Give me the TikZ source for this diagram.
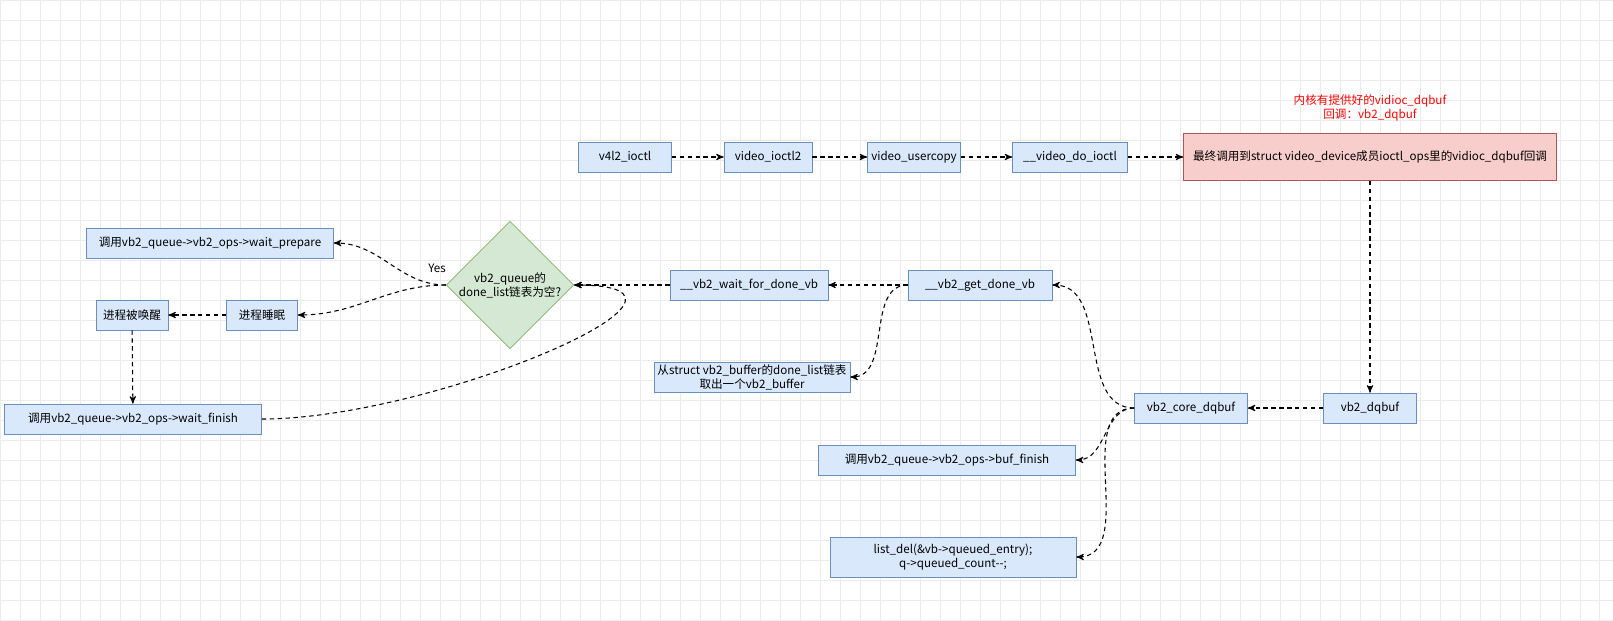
\documentclass[tikz,border=0pt]{standalone}
\usepackage{fontspec}
\setmainfont{Noto Sans CJK SC}
\usetikzlibrary{arrows,shapes.geometric}
\definecolor{boxfill}{HTML}{DAE8FC}
\definecolor{boxline}{HTML}{6C8EBF}
\definecolor{redfill}{HTML}{F8CECC}
\definecolor{redline}{HTML}{B85450}
\definecolor{greenfill}{HTML}{D5E8D4}
\definecolor{greenline}{HTML}{82B366}
\begin{document}
\begin{tikzpicture}[x=0.02cm,y=-0.02cm,
  link/.style={->,>=stealth',dash pattern=on 2.5pt off 2pt,line width=0.6pt},
  box/.style={rectangle,draw=boxline,fill=boxfill,thin,minimum height=0.6cm,inner sep=1pt,font=\fontsize{6.6}{8}\selectfont,align=center}]
  \draw[help lines,black!8,step=0.4cm] (0,0) grid (1613,620);

  \node[box,minimum width=1.86cm] (ioctl) at (625,157) {v4l2\_ioctl};
  \node[box,minimum width=1.76cm] (ioctltwo) at (768,157) {video\_ioctl2};
  \node[box,minimum width=1.86cm] (usercopy) at (914,157) {video\_usercopy};
  \node[box,minimum width=2.3cm] (doioctl) at (1070,157) {\_\_video\_do\_ioctl};
  \node[box,draw=redline,fill=redfill,minimum width=7.46cm,minimum height=0.94cm] (final) at (1370,157) {最终调用到struct video\_device成员ioctl\_ops里的vidioc\_dqbuf回调};
  \node[text=red,font=\fontsize{6.6}{8}\selectfont,align=center] (note) at (1370,108) {内核有提供好的vidioc\_dqbuf\\回调：vb2\_dqbuf};
  \node[box,minimum width=1.86cm] (dqbuf) at (1370,408) {vb2\_dqbuf};
  \node[box,minimum width=2.26cm] (coredq) at (1191,408) {vb2\_core\_dqbuf};
  \node[box,minimum width=2.88cm] (getdone) at (980,285) {\_\_vb2\_get\_done\_vb};
  \node[box,minimum width=3.16cm] (waitdone) at (749,285) {\_\_vb2\_wait\_for\_done\_vb};
  \node[diamond,draw=greenline,fill=greenfill,thin,minimum width=2.48cm,minimum height=1.88cm,inner sep=0pt,font=\fontsize{6.6}{8}\selectfont,align=center] (empty) at (510,285) {vb2\_queue的\\done\_list链表为空?};
  \node[box,minimum width=4.94cm] (prepare) at (210,243) {调用vb2\_queue->vb2\_ops->wait\_prepare};
  \node[box,minimum width=1.42cm] (sleep) at (262,315) {进程睡眠};
  \node[box,minimum width=1.44cm] (wake) at (132,315) {进程被唤醒};
  \node[box,minimum width=5.14cm] (finish) at (133,419) {调用vb2\_queue->vb2\_ops->wait\_finish};
  \node[box,minimum width=3.92cm] (takebuf) at (752,377) {从struct vb2\_buffer的done\_list链表\\取出一个vb2\_buffer};
  \node[box,minimum width=5.14cm] (buffinish) at (947,460) {调用vb2\_queue->vb2\_ops->buf\_finish};
  \node[box,minimum width=4.92cm,minimum height=0.8cm] (listdel) at (953,557) {list\_del(\&vb->queued\_entry);\\q->queued\_count-{}-;};
  \node[font=\fontsize{6.6}{8}\selectfont] (yes) at (437,268) {Yes};

  \path[link]
    (ioctl) edge (ioctltwo)
    (ioctltwo) edge (usercopy)
    (usercopy) edge (doioctl)
    (doioctl) edge (final)
    (final) edge (dqbuf)
    (dqbuf) edge (coredq)
    (coredq.west) edge[out=180,in=0] (getdone.east)
    (coredq.west) edge[out=180,in=0] (buffinish.east)
    (coredq.west) edge[out=180,in=0] (listdel.east)
    (getdone) edge (waitdone)
    (getdone.west) edge[out=180,in=0] (takebuf.east)
    (waitdone) edge (empty)
    (empty.west) edge[out=180,in=0] (prepare.east)
    (empty.west) edge[out=180,in=0] (sleep.east)
    (sleep) edge (wake)
    (wake) edge (finish)
    (finish.east) edge[out=0,in=0,looseness=1.3] (empty.east);
  \pgfresetboundingbox
  \path[use as bounding box] (0,0) rectangle (1613,620);
\end{tikzpicture}
\end{document}
